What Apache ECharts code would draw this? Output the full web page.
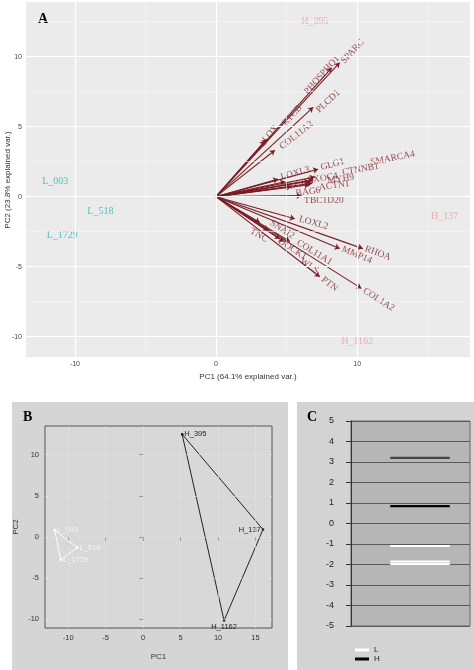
<!DOCTYPE html>
<html>
<head>
<meta charset="utf-8">
<script src="https://cdn.jsdelivr.net/npm/echarts@6/dist/echarts.min.js"></script>
<style>html,body{margin:0;padding:0;background:#fff}#chart{width:474px;height:670px}</style>
</head>
<body>
<div id="chart"></div>
<script>
// panel A: gene loadings (arrow ends) and label anchors, PCA units
var genes = ['SPARC','PHOSPHO1','RTCB','LOX','PLCD1','COL11A2','LOXL3','GLG1','PLGO3','EXOC4','CTNNB1','SMARCA4','MYH9','BAG6','ACTN1','TBC1D20','LOXL2','RHOA','MMP14','COL11A1','SNAI2','DOCK1','WLS','TNC','PTN','COL1A2'];
var geneX = [8.76,8.2,3.6,3.46,6.88,4.17,4.4,7.23,4.9,6.6,6.9,7.0,6.8,5.35,6.6,6.06,5.58,10.4,8.76,5.23,3.7,4.52,4.8,3.1,7.35,10.3];
var geneY = [9.57,9.2,4.1,3.97,6.38,3.31,1.25,1.96,1.07,1.1,1.2,1.4,0.96,0.72,0.85,0.07,-1.58,-3.71,-3.71,-3.2,-2.41,-3.0,-3.2,-1.85,-5.72,-6.55];
var labelX = [8.9,6.29,4.76,3.34,7.12,4.52,4.52,7.35,4.76,6.41,8.88,10.88,7.82,5.58,7.23,6.17,5.82,10.5,8.88,5.7,3.82,4.4,5.94,2.4,7.47,10.4];
var labelY = [9.6,7.4,5.15,3.97,6.1,3.5,1.37,2.08,0.66,1.13,1.72,2.43,1.13,0.23,0.66,-0.28,-1.58,-3.71,-3.71,-3.24,-1.82,-3.12,-4.54,-2.41,-5.84,-6.67];
// samples in panel A
var sampleNamesA = ['H_395','H_137','H_1162','L_003','L_518','L_1729'];
var sampleXA = [7.0,16.2,10.0,-11.4,-8.2,-10.9];
var sampleYA = [12.5,-1.4,-10.3,1.1,-1.06,-2.8];
// panel B: sample scores
var hNames = ['H_395','H_137','H_1162'];
var hX = [5.2,16.0,10.8];
var hY = [12.5,0.9,-10.2];
var lNames = ['L_003','L_518','L_1729'];
var lX = [-11.8,-8.8,-11.0];
var lY = [0.8,-1.3,-2.8];
// panel C: group levels
var hLevels = [3.2,0.85];
var lLevels = [-1.1,-1.85,-1.97];

var red = '#7b1c24';
var serif = '"Liberation Serif","DejaVu Serif",serif';
var sans = '"Liberation Sans",Arial,sans-serif';

function gridLines(xs, ys, color, width) {
    var d = [];
    xs.forEach(function (v) { d.push({xAxis: v}); });
    ys.forEach(function (v) { d.push({yAxis: v}); });
    return {silent: true, symbol: ['none', 'none'], label: {show: false},
        lineStyle: {color: color, width: width, type: 'solid'}, data: d};
}

var series = [];
// panel A background grid
series.push({type: 'scatter', xAxisIndex: 0, yAxisIndex: 0, data: [], silent: true,
    markLine: gridLines([-10, 0, 10], [-10, -5, 0, 5, 10], '#ffffff', 1.2)});
series.push({type: 'scatter', xAxisIndex: 0, yAxisIndex: 0, data: [], silent: true,
    markLine: gridLines([-5, 5, 15], [-7.5, -2.5, 2.5, 7.5, 12.5], '#f6f6f6', 0.6)});
// arrows
series.push({
    type: 'lines', coordinateSystem: 'cartesian2d', xAxisIndex: 0, yAxisIndex: 0,
    symbol: ['none', 'arrow'], symbolSize: 5, silent: true,
    lineStyle: {color: red, width: 1.1, opacity: 1},
    data: genes.map(function (g, i) { return {coords: [[0, 0], [geneX[i], geneY[i]]]}; })
});
// gene labels
series.push({
    type: 'scatter', xAxisIndex: 0, yAxisIndex: 0, symbolSize: 0, silent: true,
    data: genes.map(function (g, i) {
        var ang = Math.atan2(geneY[i], geneX[i]) * 180 / Math.PI;
        return {name: g, value: [labelX[i], labelY[i]],
            label: {rotate: ang}};
    }),
    label: {show: true, position: 'right', distance: 1, formatter: '{b}',
        color: red, fontFamily: serif, fontSize: 9.5}
});
// sample labels panel A
series.push({
    type: 'scatter', xAxisIndex: 0, yAxisIndex: 0, symbolSize: 0, silent: true,
    data: sampleNamesA.map(function (n, i) {
        return {name: n, value: [sampleXA[i], sampleYA[i]],
            label: {color: n.charAt(0) === 'H' ? '#e6a3a3' : '#2bb3b8'}};
    }),
    label: {show: true, position: 'inside', formatter: '{b}', fontFamily: serif, fontSize: 10}
});

// panel B grid lines
series.push({type: 'scatter', xAxisIndex: 1, yAxisIndex: 1, data: [], silent: true,
    markLine: gridLines([-10, -5, 0, 5, 10, 15], [-10, -5, 0, 5, 10], '#e0e0e0', 0.6)});
series.push({
    type: 'line', xAxisIndex: 1, yAxisIndex: 1, symbol: 'circle', symbolSize: 2.5,
    itemStyle: {color: '#222'}, lineStyle: {color: '#222', width: 1}, silent: true,
    data: hX.concat([hX[0]]).map(function (x, i) {
        var k = i % hX.length;
        return {name: i < hX.length ? hNames[k] : '', value: [hX[k], hY[k]]};
    }),
    label: {show: true, formatter: '{b}', fontFamily: sans, fontSize: 7.5, color: '#222', position: 'right', distance: 1},
    labelLayout: {hideOverlap: false}
});
series[series.length - 1].data[1].label = {position: 'left'};
series[series.length - 1].data[2].label = {position: 'bottom'};
series.push({
    type: 'line', xAxisIndex: 1, yAxisIndex: 1, symbol: 'circle', symbolSize: 2.5,
    itemStyle: {color: '#fff'}, lineStyle: {color: '#fff', width: 1}, silent: true,
    data: lX.concat([lX[0]]).map(function (x, i) {
        var k = i % lX.length;
        return {name: i < lX.length ? lNames[k] : '', value: [lX[k], lY[k]]};
    }),
    label: {show: true, formatter: '{b}', fontFamily: sans, fontSize: 7.5, color: '#f4f4f4', position: 'right', distance: 1}
});

// panel C segments
hLevels.forEach(function (v, i) {
    series.push({name: 'H', type: 'line', xAxisIndex: 2, yAxisIndex: 2, symbol: 'none', silent: true,
        lineStyle: {color: i === 0 ? '#444' : '#000', width: 2.2},
        data: [[0.33, v], [0.83, v]]});
});
lLevels.forEach(function (v) {
    series.push({name: 'L', type: 'line', xAxisIndex: 2, yAxisIndex: 2, symbol: 'none', silent: true,
        lineStyle: {color: '#fff', width: 2},
        data: [[0.33, v], [0.83, v]]});
});

var option = {
    animation: false,
    backgroundColor: '#fff',
    graphic: [
        {type: 'rect', shape: {x: 12, y: 402, width: 276, height: 268}, style: {fill: '#d5d5d5'}, z: -10},
        {type: 'rect', shape: {x: 297, y: 402, width: 177, height: 268}, style: {fill: '#d3d3d3'}, z: -10},
        {type: 'text', left: 38, top: 12, style: {text: 'A', font: 'bold 14px ' + serif, fill: '#000'}},
        {type: 'text', left: 23, top: 410, style: {text: 'B', font: 'bold 14px ' + serif, fill: '#000'}},
        {type: 'text', left: 307, top: 410, style: {text: 'C', font: 'bold 14px ' + serif, fill: '#000'}},
        {type: 'text', x: 4, y: 180, rotation: Math.PI / 2,
            style: {text: 'PC2 (23.8% explained var.)', font: '8px ' + sans, fill: '#333', align: 'center', verticalAlign: 'top'}}
    ],
    legend: {
        data: [{name: 'L', itemStyle: {color: '#fff'}}, {name: 'H', itemStyle: {color: '#000'}}],
        orient: 'vertical', left: 355, top: 646, width: 40, height: 24, padding: 0,
        itemWidth: 14, itemHeight: 3, itemGap: 1,
        icon: 'rect', textStyle: {fontFamily: sans, fontSize: 8, color: '#222', padding: [0, 0, 0, 0]}
    },
    grid: [
        {left: 26, top: 2, width: 444, height: 355, show: true, backgroundColor: '#ebebeb', borderWidth: 0, outerBoundsMode: 'none', containLabel: false},
        {left: 45, top: 426, width: 227, height: 202, show: true, backgroundColor: '#d8d8d8', borderColor: '#555', borderWidth: 1, outerBoundsMode: 'none', containLabel: false},
        {left: 351, top: 421, width: 119, height: 205, show: true, backgroundColor: '#b6b6b6', borderColor: '#666', borderWidth: 1, outerBoundsMode: 'none', containLabel: false}
    ],
    xAxis: [
        {gridIndex: 0, type: 'value', min: -13.47, max: 18, name: 'PC1 (64.1% explained var.)',
            nameLocation: 'middle', nameGap: 15, nameTextStyle: {fontFamily: sans, fontSize: 8, color: '#333'},
            axisLine: {show: false}, splitLine: {show: false},
            axisTick: {show: true, customValues: [-10, 0, 10], length: 3, lineStyle: {color: '#555'}},
            axisLabel: {customValues: [-10, 0, 10], fontFamily: sans, fontSize: 7, color: '#444', margin: 4}},
        {gridIndex: 1, type: 'value', min: -13.1, max: 17.2, name: 'PC1',
            nameLocation: 'middle', nameGap: 25, nameTextStyle: {fontFamily: sans, fontSize: 8, color: '#333'},
            axisLine: {show: false}, splitLine: {show: false},
            axisTick: {show: true, customValues: [-10, -5, 0, 5, 10, 15], length: 4, lineStyle: {color: '#333'}},
            axisLabel: {customValues: [-10, -5, 0, 5, 10, 15], fontFamily: sans, fontSize: 7.5, color: '#333', margin: 6}},
        {gridIndex: 2, type: 'value', min: 0, max: 1, show: false}
    ],
    yAxis: [
        {gridIndex: 0, type: 'value', min: -11.45, max: 13.9,
            axisLine: {show: false}, splitLine: {show: false},
            axisTick: {show: true, customValues: [-10, -5, 0, 5, 10], length: 3, lineStyle: {color: '#555'}},
            axisLabel: {customValues: [-10, -5, 0, 5, 10], fontFamily: sans, fontSize: 7, color: '#444', margin: 4}},
        {gridIndex: 1, type: 'value', min: -11.1, max: 13.5, name: 'PC2',
            nameLocation: 'middle', nameGap: 25, nameTextStyle: {fontFamily: sans, fontSize: 8, color: '#333'},
            axisLine: {show: false}, splitLine: {show: false},
            axisTick: {show: true, customValues: [-10, -5, 0, 5, 10], length: 4, lineStyle: {color: '#333'}},
            axisLabel: {customValues: [-10, -5, 0, 5, 10], fontFamily: sans, fontSize: 7.5, color: '#333', margin: 6}},
        {gridIndex: 2, type: 'value', min: -5, max: 5, interval: 1, offset: 12,
            axisLine: {show: true, lineStyle: {color: '#333'}},
            axisTick: {show: true, length: 5, lineStyle: {color: '#333'}},
            axisLabel: {fontFamily: sans, fontSize: 9, color: '#222', margin: 5},
            splitLine: {show: true, lineStyle: {color: '#5a5a5a', width: 1}}}
    ],
    series: series
};
echarts.init(document.getElementById('chart')).setOption(option);
</script>
</body>
</html>
